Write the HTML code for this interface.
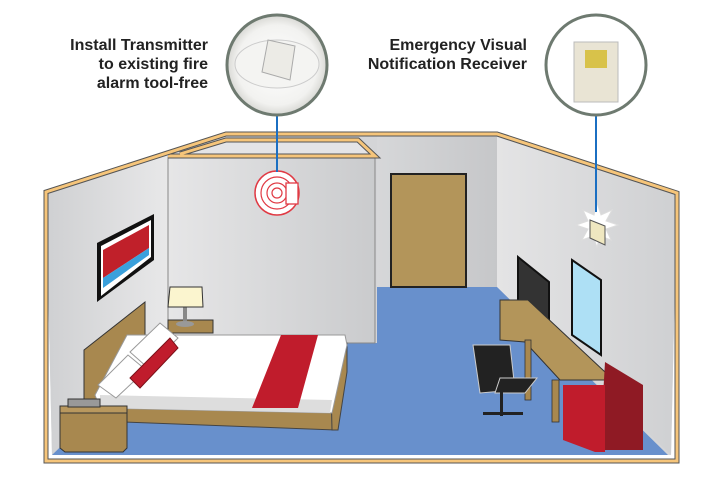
<!DOCTYPE html>
<html><head><meta charset="utf-8"><style>
html,body{margin:0;padding:0;background:#fff;}
body{width:720px;height:480px;overflow:hidden;font-family:"Liberation Sans",Arial,sans-serif;}
</style></head><body>
<svg width="720" height="480" viewBox="0 0 720 480" xmlns="http://www.w3.org/2000/svg">
<defs>
<linearGradient id="lw" x1="0" x2="1"><stop offset="0" stop-color="#cfd0d2"/><stop offset="1" stop-color="#e8e8e9"/></linearGradient>
<linearGradient id="pw" x1="0" x2="1"><stop offset="0" stop-color="#e6e6e7"/><stop offset="1" stop-color="#cacbcd"/></linearGradient>
<linearGradient id="rw" x1="0" x2="1"><stop offset="0" stop-color="#e4e4e5"/><stop offset="1" stop-color="#cfd0d2"/></linearGradient>
<linearGradient id="bw" x1="0" x2="1"><stop offset="0" stop-color="#d6d7d9"/><stop offset="1" stop-color="#c6c7c9"/></linearGradient>
<radialGradient id="c1"><stop offset="0" stop-color="#fff"/><stop offset="0.8" stop-color="#f2f2f0"/><stop offset="1" stop-color="#d8d8d4"/></radialGradient>
</defs>
<polygon points="46,192 226,134 497,134 677,193 671,455 52,455" fill="#d4d5d7"/>
<polygon points="377,134 497,134 497,287 377,287" fill="url(#bw)"/>
<polygon points="497,134 677,193 671,455 497,287" fill="url(#rw)"/>
<polygon points="46,192 168,153 168,343 52,455" fill="url(#lw)"/>
<polygon points="377,287 497,287 668,455 52,455 168,343 377,343" fill="#6890cc"/>
<!-- partition -->
<polygon points="168,157 375,157 375,343 168,343" fill="url(#pw)" stroke="#888" stroke-width="1"/>
<polygon points="180,154 226,140 358,140 375,156" fill="#e4e4e6"/>
<polyline points="180,154 226,140 358,140 375,156 168,156" fill="none" stroke="#555" stroke-width="5"/>
<polyline points="180,154 226,140 358,140 375,156 168,156" fill="none" stroke="#f6c57a" stroke-width="3"/>
<rect x="391" y="174" width="75" height="113" fill="#b3955a" stroke="#222" stroke-width="2"/>
<polygon points="46,192 226,134 497,134 677,193 677,461 46,461" fill="none" stroke="#555" stroke-width="5"/>
<polygon points="46,192 226,134 497,134 677,193 677,461 46,461" fill="none" stroke="#f6c57a" stroke-width="3"/>
<!-- painting -->
<polygon points="97,243 154,214 154,260 97,302" fill="#111"/>
<polygon points="101,246 151,220 151,257 101,296" fill="#fff"/>
<polygon points="103,250 149,225 149,248 103,278" fill="#c0202a"/>
<polygon points="103,278 149,248 149,255 103,288" fill="#3aa0dc"/>
<!-- lamp + nightstand -->
<polygon points="168,320 213,320 213,333 168,333" fill="#a8884f" stroke="#333" stroke-width="1"/>
<rect x="183" y="305" width="4" height="18" fill="#888"/>
<ellipse cx="185" cy="324" rx="9" ry="3" fill="#999"/>
<polygon points="170,287 202,287 203,307 168,307" fill="#fbf5cf" stroke="#333" stroke-width="1"/>
<!-- headboard -->
<polygon points="84,350 145,302 145,335 130,345 130,410 84,410" fill="#a8884f" stroke="#333" stroke-width="1"/>
<!-- bed frame -->
<polygon points="125,405 335,410 335,430 125,422" fill="#a8884f" stroke="#444" stroke-width="1"/>
<polygon points="330,343 347,343 347,372 338,430 332,430" fill="#a8884f" stroke="#444" stroke-width="1"/>
<!-- mattress -->
<polygon points="127,335 345,335 347,345 332,413 100,408 95,395" fill="#fff" stroke="#999" stroke-width="1"/>
<polygon points="100,395 332,400 330,413 100,408" fill="#ddd"/>
<polygon points="281,335 318,335 298,408 252,408" fill="#c01c2c"/>
<!-- pillows -->
<polygon points="130,352 160,323 178,338 148,368" fill="#fff" stroke="#999" stroke-width="1"/>
<polygon points="98,385 128,355 146,370 116,398" fill="#fff" stroke="#999" stroke-width="1"/>
<polygon points="170,338 178,348 140,388 130,378" fill="#c01c2c" stroke="#7a1018" stroke-width="1"/>
<!-- left nightstand -->
<polygon points="60,412 127,412 127,448 123,452 65,452 60,448" fill="#a8884f" stroke="#333" stroke-width="1"/>
<polygon points="60,406 127,406 127,413 60,413" fill="#b9985e" stroke="#333" stroke-width="1"/>
<rect x="68" y="399" width="32" height="8" fill="#999" stroke="#333" stroke-width="1"/>
<!-- TV -->
<polygon points="518,257 549,282 549,327 518,305" fill="#333" stroke="#111" stroke-width="2"/>
<!-- window -->
<polygon points="572,260 601,280 601,355 572,335" fill="#aee0f5" stroke="#111" stroke-width="2"/>
<!-- desk -->
<polygon points="500,300 528,300 605,372 605,380 560,380 525,342 500,340" fill="#b3955a" stroke="#333" stroke-width="1"/>
<rect x="552" y="380" width="7" height="42" fill="#a8884f" stroke="#333" stroke-width="0.8"/>
<rect x="525" y="340" width="6" height="60" fill="#a8884f" stroke="#333" stroke-width="0.8"/>
<!-- chair -->
<polygon points="473,345 510,345 515,390 480,393" fill="#222" stroke="#ccc" stroke-width="1"/>
<polygon points="500,378 537,378 525,393 495,393" fill="#222" stroke="#ccc" stroke-width="1"/>
<rect x="500" y="392" width="3" height="24" fill="#222"/>
<rect x="483" y="412" width="40" height="3" fill="#222"/>
<!-- armchair -->
<polygon points="605,362 643,385 643,450 600,450" fill="#8f1a24"/>
<polygon points="563,385 605,385 605,452 595,452 563,440" fill="#c01c2c"/>
<!-- detector -->
<circle cx="277" cy="193" r="22" fill="#fff" stroke="#e03a44" stroke-width="1.5"/>
<circle cx="277" cy="193" r="16" fill="none" stroke="#e03a44" stroke-width="1.2"/>
<circle cx="277" cy="193" r="10" fill="none" stroke="#e03a44" stroke-width="1.2"/>
<circle cx="277" cy="193" r="5" fill="none" stroke="#e03a44" stroke-width="1.2"/>
<rect x="286" y="183" width="12" height="21" fill="#fff" stroke="#e03a44" stroke-width="1.3"/>
<!-- receiver -->
<polygon points="597,203 601,215 612,210 606,221 618,225 606,229 611,240 600,236 597,247 593,236 582,240 588,229 576,225 588,221 583,210 594,215" fill="#fff" stroke="#ddd"/>
<polygon points="590,220 605,226 605,245 590,238" fill="#efe7c0" stroke="#555" stroke-width="1"/>
<line x1="277" y1="115" x2="277" y2="172" stroke="#1b6fc2" stroke-width="2"/>
<line x1="596" y1="115" x2="596" y2="212" stroke="#1b6fc2" stroke-width="2"/>
<!-- callouts -->
<circle cx="277" cy="65" r="50" fill="url(#c1)" stroke="#6e7a70" stroke-width="3"/>
<ellipse cx="277" cy="64" rx="42" ry="24" fill="#f4f4f2" stroke="#ccc"/>
<polygon points="268,40 295,46 290,80 262,72" fill="#ecebe6" stroke="#aaa"/>
<circle cx="596" cy="65" r="50" fill="#fff" stroke="#6e7a70" stroke-width="3"/>
<rect x="574" y="42" width="44" height="60" fill="#e9e4d4" stroke="#bbb"/>
<rect x="585" y="50" width="22" height="18" fill="#d8c24a"/>
<g font-family="Liberation Sans, Arial, sans-serif" font-weight="bold" font-size="16" fill="#222" text-anchor="end">
<text x="208" y="50">Install Transmitter</text>
<text x="208" y="69">to existing fire</text>
<text x="208" y="88">alarm tool-free</text>
<text x="527" y="50">Emergency Visual</text>
<text x="527" y="69">Notification Receiver</text>
</g>
</svg>
</body></html>
